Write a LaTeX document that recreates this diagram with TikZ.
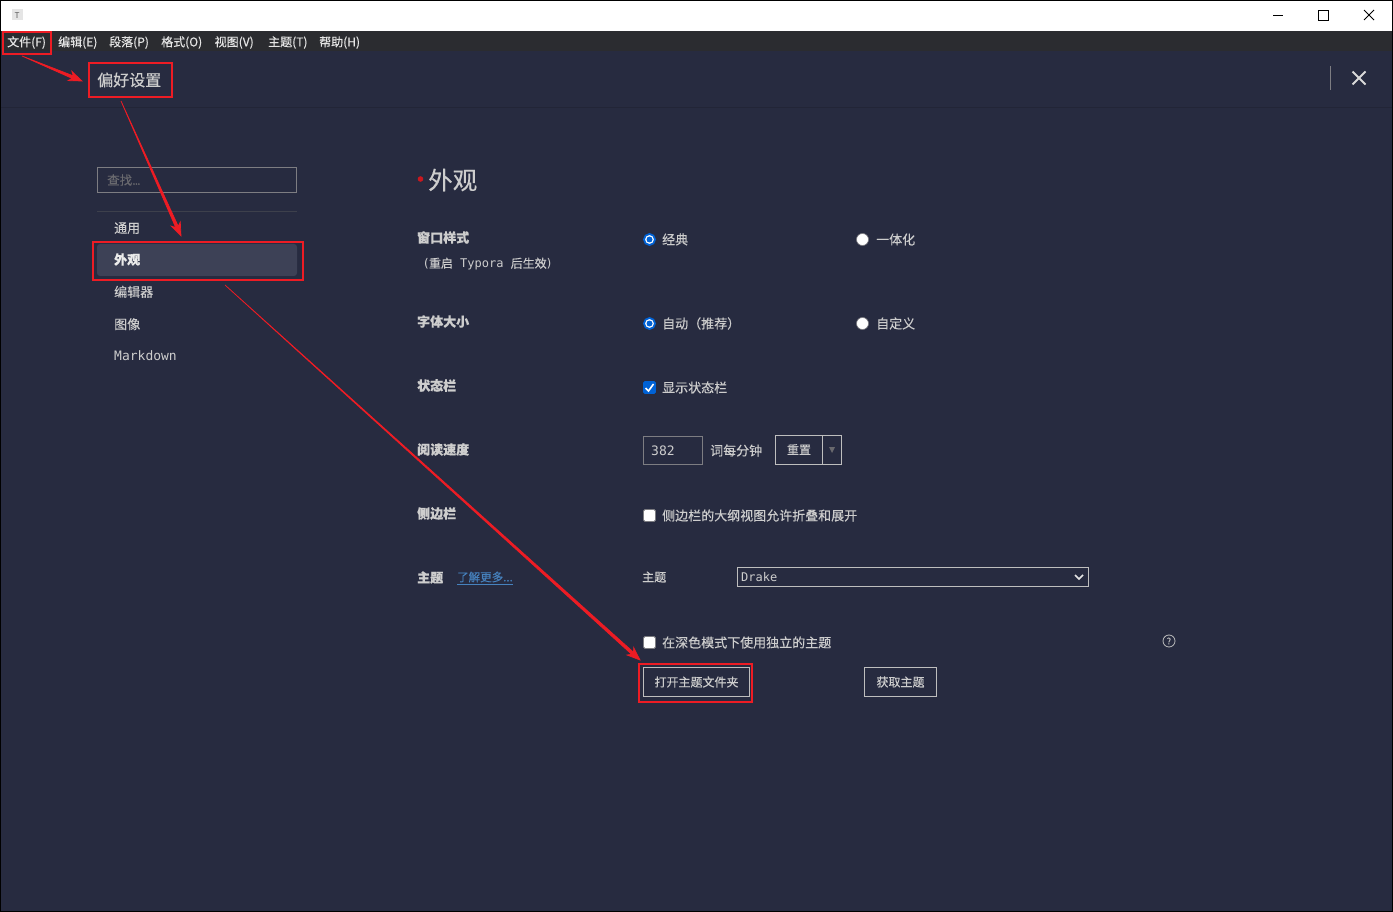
\documentclass[tikz,border=0pt]{standalone}
\usepackage{fontspec}
\setmainfont{Noto Sans CJK SC}[RawFeature={embolden=0.25}]
\newfontfamily\monofam{DejaVu Sans Mono}
\usetikzlibrary{calc,positioning}
\definecolor{panelbg}{RGB}{39,43,64}
\definecolor{menubg}{RGB}{43,44,48}
\definecolor{selbg}{RGB}{61,65,86}
\definecolor{textgray}{RGB}{205,205,205}
\definecolor{dimgray}{RGB}{105,105,110}
\definecolor{edgegray}{RGB}{125,125,130}
\definecolor{btngray}{RGB}{190,190,190}
\definecolor{linkblue}{RGB}{70,130,190}
\definecolor{markred}{RGB}{237,28,36}
\definecolor{tickblue}{RGB}{0,98,214}
\tikzset{
  txt/.style={anchor=west,inner sep=0pt,yshift=.5pt,text=textgray,font=\fontsize{13}{13}\selectfont},
  menutxt/.style={txt,text=white!90!black,font=\fontsize{12}{12}\selectfont},
  headtxt/.style={txt,font=\fontsize{13}{13}\selectfont\bfseries},
  monotxt/.style={txt,yshift=-.5pt,font=\fontsize{13}{13}\selectfont\monofam},
  redbox/.style={draw=markred,line width=2pt,inner sep=0pt},
  btn/.style={draw=btngray,line width=1pt,inner sep=0pt,text=textgray,font=\fontsize{12}{13}\selectfont},
  radio/.style={circle,fill=white,draw=edgegray,line width=.6pt,minimum size=12pt,inner sep=0pt},
  radioon/.style={circle,fill=white,draw=tickblue,line width=1.8pt,minimum size=11pt,inner sep=0pt},
  checkoff/.style={rectangle,rounded corners=1.5pt,fill=white,draw=edgegray,line width=.8pt,minimum size=12pt,inner sep=0pt},
  checkon/.style={rectangle,rounded corners=1.5pt,fill=tickblue,draw=tickblue,line width=.8pt,minimum size=12pt,inner sep=0pt},
  redarrow/.style={draw=markred,line width=.7pt,fill=markred,to path={
    let \p1=($(\tikztotarget)!10pt!(\tikztostart)$),
        \p2=($(\tikztotarget)!13pt!(\tikztostart)$) in
    -- ($(\p1)!1.4pt!90:(\tikztotarget)$) -- ($(\p2)!5pt!90:(\tikztotarget)$)
    -- (\tikztotarget)
    -- ($(\p2)!5pt!-90:(\tikztotarget)$) -- ($(\p1)!1.4pt!-90:(\tikztotarget)$) -- cycle}}
}
\begin{document}
\begin{tikzpicture}[x=1pt,y=-1pt]
  \useasboundingbox (0,0) rectangle (1393,912);
  % window
  \fill[panelbg] (0,51) rectangle (1393,912);
  \fill[white] (0,0) rectangle (1393,31);
  \fill[menubg] (0,31) rectangle (1393,51);
  \draw[black,line width=1pt] (.5,.5) rectangle (1392.5,911.5);
  \draw[black!14!panelbg,line width=.8pt] (1,107.5) -- (1392,107.5);

  % title bar
  \node[rectangle,fill=black!10,minimum size=11pt,inner sep=0pt,text=black!55,font=\fontsize{8}{8}\selectfont] (appicon) at (17,15) {T};
  \draw[black,line width=1pt] (1273,15.5) -- (1283,15.5);
  \draw[black,line width=1pt] (1318.5,10.5) rectangle (1328.5,20.5);
  \draw[black,line width=1pt] (1364,10) -- (1374,20) (1374,10) -- (1364,20);

  % menu
  \node[menutxt] (mfile) at (7,43) {文件(F)};
  \node[menutxt] (medit) at (58,43) {编辑(E)};
  \node[menutxt] (mpara) at (109,43) {段落(P)};
  \node[menutxt] (mform) at (161,43) {格式(O)};
  \node[menutxt] (mview) at (214.5,43) {视图(V)};
  \node[menutxt] (mtheme) at (268,43) {主题(T)};
  \node[menutxt] (mhelp) at (319,43) {帮助(H)};

  % header
  \node[txt,font=\fontsize{16}{16}\selectfont] (prefs) at (97,80.5) {偏好设置};
  \draw[edgegray,line width=1pt] (1330.5,66) -- (1330.5,90);
  \draw[white!85!black,line width=2pt] (1352.5,71.5) -- (1365.5,84.5) (1365.5,71.5) -- (1352.5,84.5);

  % sidebar
  \node[draw=edgegray,line width=1pt,inner sep=0pt,minimum width=199.5pt,minimum height=25.5pt] (search) at (197,180) {};
  \node[txt,text=dimgray,font=\fontsize{12.5}{13}\selectfont] (searchtxt) at (107,180.5) {查找.\kern-1pt.\kern-1pt.};
  \draw[black!30!panelbg!85!white,line width=.6pt] (97,211.5) -- (297,211.5);
  \node[txt] (general) at (114,228.7) {通用};
  \fill[selbg,rounded corners=3pt] (97,244) rectangle (297,276);
  \node[txt,text=white!92!black,font=\fontsize{13}{13}\selectfont\bfseries] (looks) at (114,260) {外观};
  \node[txt] (editor) at (114,292.3) {编辑器};
  \node[txt] (image) at (114,324.7) {图像};
  \node[monotxt] (markdown) at (114,356) {Markdown};

  % section title
  \fill[markred!85!black] (420.5,179) circle (2.8);
  \node[txt,font=\fontsize{24.5}{24.5}\selectfont] (section) at (428,180.5) {外观};

  % left labels
  \node[headtxt] (lwindow) at (417,238) {窗口样式};
  \node[txt,font=\fontsize{12}{12}\selectfont] (lrestart) at (422.5,264.5) {{\monofam (}\hspace{-1pt}重启{\monofam\ Typora\ }后生效\hspace{-1pt}{\monofam )}};
  \node[headtxt] (lsize) at (417,322) {字体大小};
  \node[headtxt] (lstatus) at (417,386) {状态栏};
  \node[headtxt] (lspeed) at (417,450) {阅读速度};
  \node[headtxt] (lside) at (417,514) {侧边栏};
  \node[headtxt] (ltheme) at (417,578) {主题};
  \node[txt,text=linkblue,font=\fontsize{11.5}{12}\selectfont] (lmore) at (457,578.5) {\underline{了解更多...}};

  % window style
  \node[radioon] (classic) at (649.5,239.5) {};
  \fill[tickblue] (classic) circle (3);
  \node[txt] (classictxt) at (662,240) {经典};
  \node[radio] (unified) at (862.5,239.5) {};
  \node[txt] (unifiedtxt) at (876,240) {一体化};

  % font size
  \node[radioon] (autosize) at (649.5,323.5) {};
  \fill[tickblue] (autosize) circle (3);
  \node[txt] (autotxt) at (662,324) {自动（推荐）};
  \node[radio] (custom) at (862.5,323.5) {};
  \node[txt] (customtxt) at (876,324) {自定义};

  % status bar
  \node[checkon] (showbar) at (649.5,387.5) {};
  \draw[white,line width=1.6pt] (645.5,388) -- (648.5,391) -- (653.5,384);
  \node[txt] (showtxt) at (662,388) {显示状态栏};

  % reading speed
  \node[draw=edgegray,line width=1pt,inner sep=0pt,minimum width=59pt,minimum height=28.5pt] (speedbox) at (673,450.5) {};
  \node[monotxt] (speedval) at (651,450.5) {382};
  \node[txt] (speedunit) at (710,451) {词每分钟};
  \node[btn,minimum width=47pt,minimum height=29pt] (reset) at (799,449.5) {重置};
  \node[btn,minimum width=18.5pt,minimum height=29pt,right=-1pt of reset] (resetdrop) {};
  \fill[dimgray] (829,447) -- (835,447) -- (832,453) -- cycle;

  % sidebar outline
  \node[checkoff] (outline) at (649.5,515.5) {};
  \node[txt] (outlinetxt) at (662,516) {侧边栏的大纲视图允许折叠和展开};

  % theme
  \node[txt,font=\fontsize{12}{12}\selectfont] (themelab) at (642,577.5) {主题};
  \node[draw=btngray,line width=1pt,inner sep=0pt,minimum width=351pt,minimum height=19.5pt] (themesel) at (913,577) {};
  \node[monotxt,font=\fontsize{12}{12}\selectfont\monofam] (themeval) at (741,577) {Drake};
  \draw[white!90!black,line width=1.6pt] (1075,575) -- (1079,579) -- (1083,575);
  \node[checkoff] (darkmode) at (649.5,642.5) {};
  \node[txt] (darktxt) at (662,643) {在深色模式下使用独立的主题};
  \node[circle,draw=btngray,line width=.8pt,minimum size=12pt,inner sep=0pt,text=btngray,font=\fontsize{9}{9}\selectfont] (help) at (1169,641) {?};
  \node[btn,minimum width=106pt,minimum height=29pt] (openfolder) at (696.5,682) {打开主题文件夹};
  \node[btn,minimum width=72pt,minimum height=29pt] (getthemes) at (900.5,682) {获取主题};

  % red marks
  \node[redbox,minimum width=48pt,minimum height=22pt] (filebox) at (27,43) {};
  \node[redbox,minimum width=83pt,minimum height=34pt] (prefsbox) at (130.5,80.5) {};
  \node[redbox,minimum width=210pt,minimum height=38pt] (looksbox) at (198,261) {};
  \node[redbox,minimum width=113pt,minimum height=38pt] (folderbox) at (695.5,683) {};

  \coordinate (fromfile) at (22,56);
  \coordinate (toprefs) at (82,81);
  \coordinate (fromprefs) at (121,101);
  \coordinate (tolooks) at (181,236);
  \coordinate (fromlooks) at (225,285);
  \coordinate (tofolder) at (640,660);
  \draw[redarrow] (fromfile) to (toprefs);
  \draw[redarrow] (fromprefs) to (tolooks);
  \draw[redarrow] (fromlooks) to (tofolder);
\end{tikzpicture}
\end{document}
